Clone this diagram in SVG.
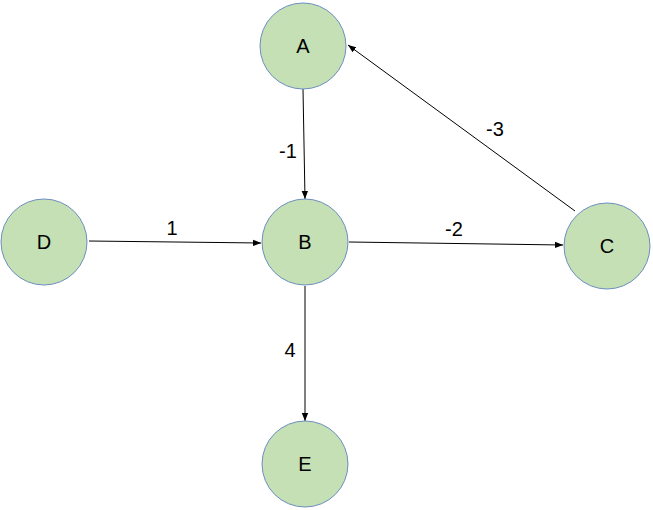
<svg xmlns="http://www.w3.org/2000/svg" width="653" height="510" viewBox="0 0 653 510">
<style>
.n{fill:#c5e0b4;stroke:#6c8ebf;stroke-width:1}
.t{font-family:"Liberation Sans",Arial,sans-serif;font-size:20px;text-anchor:middle;dominant-baseline:central;fill:#000}
.e{stroke:#000;stroke-width:1;fill:none;marker-end:url(#ar)}
</style>
<defs><marker id="ar" viewBox="0 0 10 10" refX="10" refY="5" markerWidth="8" markerHeight="8" orient="auto" markerUnits="userSpaceOnUse"><path d="M0,1 L10,5 L0,9 Z" fill="#000"/></marker></defs>
<rect width="653" height="510" fill="#fff"/>
<g id="connectors">
<line class="e" x1="303" y1="89" x2="305" y2="199"/>
<line class="e" x1="89" y1="241" x2="261" y2="243"/>
<line class="e" x1="349" y1="242" x2="563" y2="245"/>
<line class="e" x1="575" y1="211" x2="348" y2="45"/>
<line class="e" x1="305" y1="286" x2="305" y2="421"/>
<text class="t" x="288" y="151">-1</text>
<text class="t" x="172" y="228">1</text>
<text class="t" x="454" y="229">-2</text>
<text class="t" x="495" y="129">-3</text>
<text class="t" x="290" y="350">4</text>
</g>
<g id="A"><circle class="n" cx="303" cy="46" r="43"/><text class="t" x="303" y="46">A</text></g>
<g id="B"><circle class="n" cx="305" cy="242" r="43"/><text class="t" x="305" y="242">B</text></g>
<g id="C"><circle class="n" cx="607" cy="246" r="43"/><text class="t" x="607" y="246">C</text></g>
<g id="D"><circle class="n" cx="44" cy="242" r="43"/><text class="t" x="44" y="242">D</text></g>
<g id="E"><circle class="n" cx="305" cy="464" r="43"/><text class="t" x="305" y="464">E</text></g>
</svg>
